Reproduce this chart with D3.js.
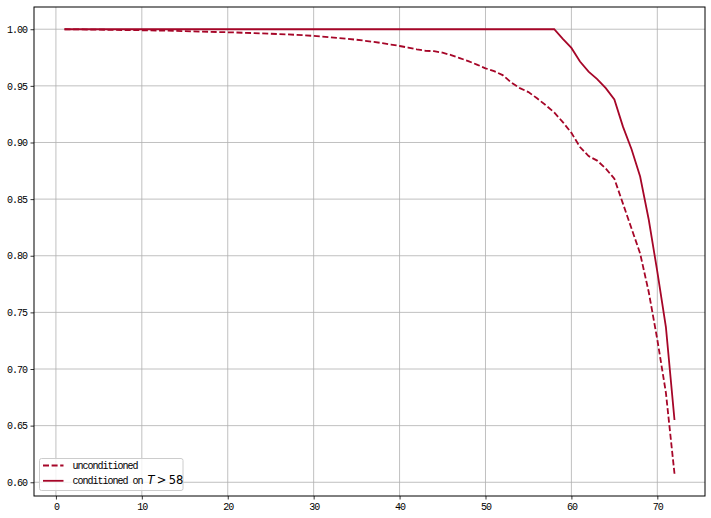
<!DOCTYPE html>
<meta charset="utf-8">
<title>Survival curves</title>
<style>
body { margin: 0; background: #fff; }
.tick text { font-family: "Liberation Mono", monospace; font-size: 10px; letter-spacing: -1px; fill: #000; }
.grid line { stroke: #b0b0b0; stroke-width: 0.8px; }
.line { fill: none; stroke: #A60628; stroke-width: 1.8px; }
.legend text { font-family: "Liberation Mono", monospace; font-size: 10px; letter-spacing: -1px; }
</style>
<body>
<div id="chart"></div>
<script src="https://cdn.jsdelivr.net/npm/d3@7"></script>
<script>

// data: ages 1..72
const ages = d3.range(1, 73);

const unconditioned = [
  1.0000, 0.9999, 0.9998, 0.9997, 0.9996, 0.9995, 0.9994, 0.9993, 0.9992, 0.9991,
  0.9990, 0.9988, 0.9987, 0.9985, 0.9983, 0.9981, 0.9979, 0.9977, 0.9975, 0.9973,
  0.9971, 0.9968, 0.9966, 0.9963, 0.9960, 0.9957, 0.9954, 0.9950, 0.9946, 0.9941,
  0.9935, 0.9929, 0.9922, 0.9915, 0.9907, 0.9898, 0.9888, 0.9877, 0.9865, 0.9852,
  0.9838, 0.9822, 0.9810, 0.9806, 0.9793, 0.9772, 0.9745, 0.9718, 0.9688, 0.9655,
  0.9630, 0.9595, 0.9530, 0.9480, 0.9445, 0.9390, 0.9330, 0.9265, 0.9180, 0.9085,
  0.8960, 0.8880, 0.8840, 0.8770, 0.8680, 0.8460, 0.8240, 0.8020, 0.7680, 0.7260,
  0.6790, 0.6075
];

const conditioned = [
  1, 1, 1, 1, 1, 1, 1, 1, 1, 1,
  1, 1, 1, 1, 1, 1, 1, 1, 1, 1,
  1, 1, 1, 1, 1, 1, 1, 1, 1, 1,
  1, 1, 1, 1, 1, 1, 1, 1, 1, 1,
  1, 1, 1, 1, 1, 1, 1, 1, 1, 1,
  1, 1, 1, 1, 1, 1, 1, 1, 0.9915, 0.9835,
  0.9715, 0.9625, 0.9560, 0.9480, 0.9380, 0.9140, 0.8940, 0.8700, 0.8320, 0.7860,
  0.7370, 0.6550
];

const xTicks = [0, 10, 20, 30, 40, 50, 60, 70];
const yTicks = [0.60, 0.65, 0.70, 0.75, 0.80, 0.85, 0.90, 0.95, 1.00];

const series = [
  { name: "unconditioned", values: unconditioned, dash: "6,2.6" },
  { name: "conditioned on ", math: true, values: conditioned, dash: null }
];

const width = 711, height = 518;
const margin = { top: 7, right: 6, bottom: 22, left: 34 };
const chartWidth = width - margin.left - margin.right;
const chartHeight = height - margin.top - margin.bottom;

// matplotlib-like 5% padding
function padded(ext) {
  const p = (ext[1] - ext[0]) * 0.05;
  return [ext[0] - p, ext[1] + p];
}

const x = d3.scaleLinear()
  .domain(padded(d3.extent(ages)))
  .range([0, chartWidth]);

const y = d3.scaleLinear()
  .domain(padded(d3.extent(unconditioned.concat(conditioned))))
  .range([chartHeight, 0]);

const svg = d3.select("#chart").append("svg")
  .attr("width", width)
  .attr("height", height);

const g = svg.append("g")
  .attr("transform", `translate(${margin.left},${margin.top})`);

// grid
g.append("g").attr("class", "grid")
  .selectAll("line.vx").data(xTicks).enter().append("line")
  .attr("x1", d => x(d)).attr("x2", d => x(d))
  .attr("y1", 0).attr("y2", chartHeight);
g.append("g").attr("class", "grid")
  .selectAll("line.hy").data(yTicks).enter().append("line")
  .attr("y1", d => y(d)).attr("y2", d => y(d))
  .attr("x1", 0).attr("x2", chartWidth);

// axes
const xAxis = g.append("g")
  .attr("transform", `translate(0,${chartHeight})`)
  .call(d3.axisBottom(x).tickValues(xTicks).tickSizeInner(3.5).tickSizeOuter(0).tickPadding(3.5));
const yAxis = g.append("g")
  .call(d3.axisLeft(y).tickValues(yTicks).tickFormat(d3.format(".2f")).tickSizeInner(3.5).tickSizeOuter(0).tickPadding(3.5));
[xAxis, yAxis].forEach(a => {
  a.select(".domain").remove();
  a.selectAll(".tick line").attr("stroke", "#000").attr("stroke-width", 0.8);
});

// lines
const line = d3.line()
  .x((d, i) => x(ages[i]))
  .y(d => y(d));

g.selectAll(".line").data(series).enter().append("path")
  .attr("class", "line")
  .attr("stroke-dasharray", d => d.dash)
  .attr("d", d => line(d.values));

// frame
g.append("rect")
  .attr("width", chartWidth).attr("height", chartHeight)
  .attr("fill", "none").attr("stroke", "#000").attr("stroke-width", 1);

// legend
const legend = g.append("g").attr("class", "legend")
  .attr("transform", `translate(${39.5 - margin.left},${458.5 - margin.top})`);
legend.append("rect")
  .attr("width", 143.5).attr("height", 32)
  .attr("rx", 2).attr("fill", "#fff").attr("fill-opacity", 0.8)
  .attr("stroke", "#cccccc").attr("stroke-width", 1);
const item = legend.selectAll(".item").data(series).enter().append("g")
  .attr("transform", (d, i) => `translate(0,${7 + i * 15.3})`);
item.append("line")
  .attr("x1", 3.5).attr("x2", 24)
  .attr("stroke", "#A60628").attr("stroke-width", 1.8)
  .attr("stroke-dasharray", d => d.dash);
const label = item.append("text")
  .attr("x", 33).attr("dy", "0.35em");
label.append("tspan").text(d => d.name);
label.filter(d => d.math).append("tspan")
  .style("font-family", "DejaVu Sans").style("font-size", "11.5px").style("letter-spacing", "0")
  .style("font-style", "italic").text("T");
label.filter(d => d.math).append("tspan")
  .style("font-family", "DejaVu Sans").style("font-size", "11.5px").style("letter-spacing", "0")
  .text("\u2009>\u200958");

</script>
</body>
